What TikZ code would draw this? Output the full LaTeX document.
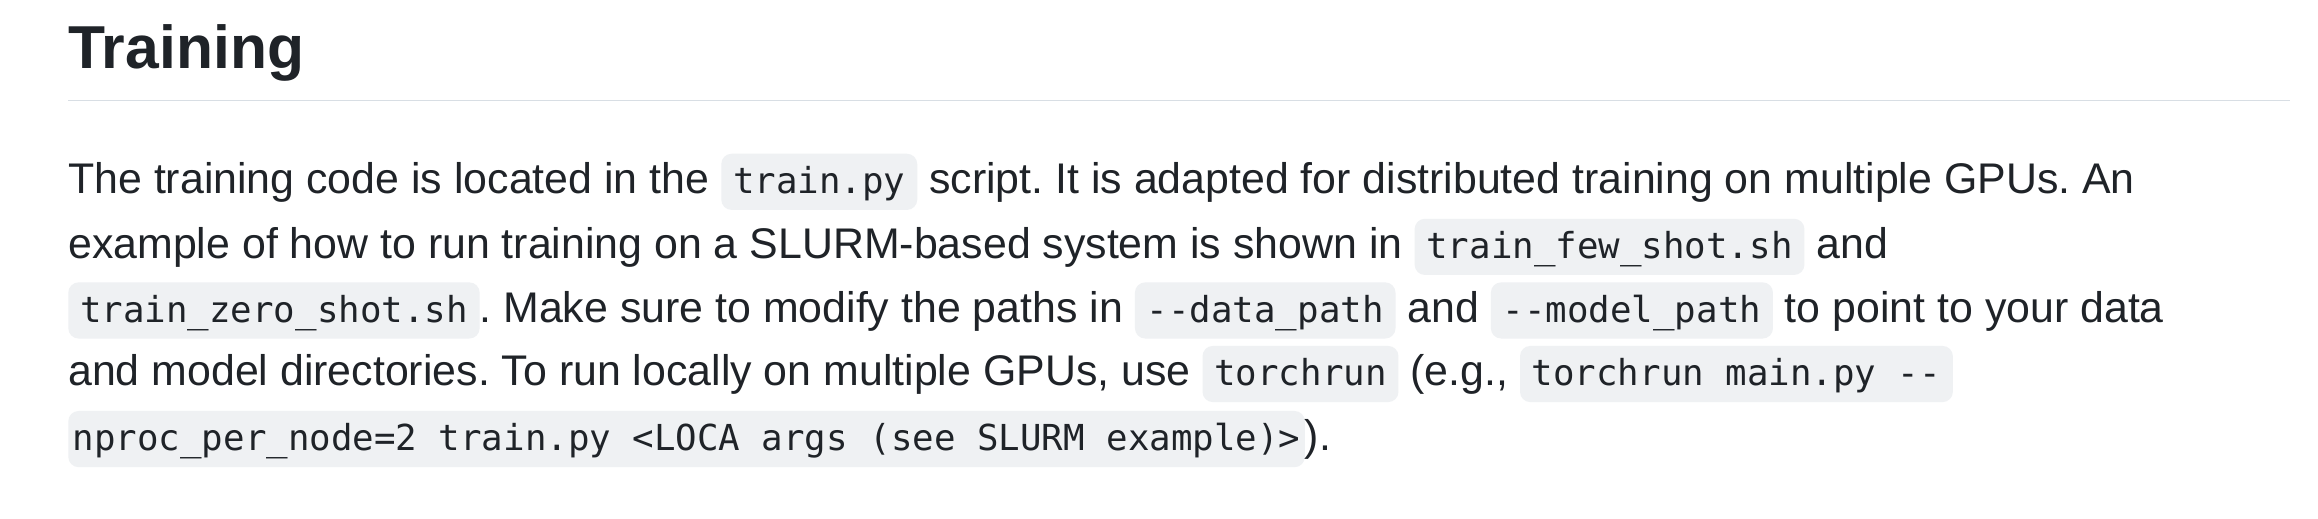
\documentclass[tikz,border=0pt]{standalone}
\usepackage{fontspec}
\setmainfont{Liberation Sans}
\setmonofont{DejaVu Sans Mono}
\frenchspacing
\definecolor{txt}{HTML}{1F2328}
\definecolor{codebg}{HTML}{EFF1F3}
\definecolor{rule}{HTML}{D8DEE4}
\newcommand\cod[2][8pt]{\tikz[baseline=(cb.base)]\node(cb)[fill=codebg,rounded corners=7pt,inner xsep=#1,inner ysep=0pt,text height=27pt,text depth=11pt]{\fontsize{24.2}{28}\selectfont\ttfamily #2};}
\tikzset{line/.style={anchor=base west,inner sep=0pt,text=txt,font=\fontsize{29}{34}\selectfont}}
\begin{document}
\begin{tikzpicture}[x=1pt,y=-1pt]
\useasboundingbox[fill=white] (0,0) rectangle (1568,350.4);
\node[anchor=base west,inner sep=0pt,text=txt,font=\fontsize{41}{46}\selectfont\bfseries] (h) at (46,46) {Training};
\draw[rule,line width=1.2pt] (46,68) -- (1549,68);
\node[line] (l1) at (46,131) {The training code is located in the \cod{train.py} script. It is adapted for distributed training on multiple GPUs. An};
\node[line] (l2) at (46,175) {example of how to run training on a SLURM-based system is shown in \cod{train\_few\_shot.sh} and};
\node[line] (l3) at (46,218) {\cod{train\_zero\_shot.sh}. Make sure to modify the paths in \cod{-{}-data\_path} and \cod{-{}-model\_path} to point to your data};
\node[line] (l4) at (46,261) {and model directories. To run locally on multiple GPUs, use \cod{torchrun} (e.g., \cod{torchrun main.py -{}-}};
\node[line] (l5) at (46,305) {\cod[3pt]{nproc\_per\_node=2 train.py <LOCA args (see SLURM example)>}).};
\end{tikzpicture}
\end{document}
